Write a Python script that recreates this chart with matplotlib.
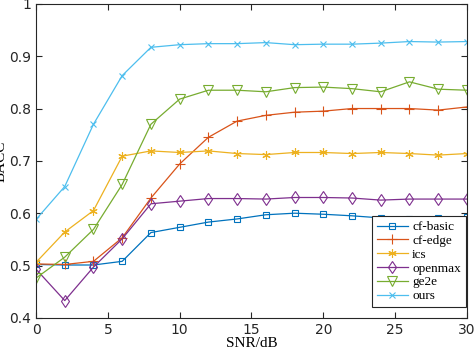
import numpy as np
import matplotlib
matplotlib.use("Agg")
import matplotlib.pyplot as plt

snr = [0, 2, 4, 6, 8, 10, 12, 14, 16, 18, 20, 22, 24, 26, 28, 30]

cf_basic = [0.502, 0.501, 0.501, 0.508, 0.563, 0.573, 0.583, 0.589, 0.597, 0.600,
            0.598, 0.595, 0.591, 0.589, 0.590, 0.592]
cf_edge = [0.503, 0.502, 0.508, 0.553, 0.629, 0.694, 0.745, 0.776, 0.787, 0.793,
           0.795, 0.800, 0.800, 0.800, 0.797, 0.803]
ics = [0.506, 0.564, 0.605, 0.709, 0.719, 0.716, 0.719, 0.714, 0.712, 0.716,
       0.716, 0.714, 0.716, 0.714, 0.711, 0.714]
openmax = [0.493, 0.433, 0.497, 0.551, 0.618, 0.623, 0.628, 0.628, 0.627, 0.630,
           0.630, 0.629, 0.625, 0.627, 0.627, 0.627]
ge2e = [0.476, 0.516, 0.569, 0.655, 0.770, 0.818, 0.835, 0.835, 0.832, 0.840,
        0.841, 0.838, 0.832, 0.851, 0.837, 0.835]
ours = [0.588, 0.651, 0.770, 0.863, 0.917, 0.922, 0.924, 0.924, 0.926, 0.922,
        0.923, 0.923, 0.925, 0.928, 0.927, 0.928]

names = ["cf-basic", "cf-edge", "ics", "openmax", "ge2e", "ours"]
series = [cf_basic, cf_edge, ics, openmax, ge2e, ours]
colors = ["#0072BD", "#D95319", "#EDB120", "#7E2F8E", "#77AC30", "#4DBEEE"]
markers = ["s", "+", (6, 2, 0), "d", "v", "x"]
msizes = [5, 6.5, 6, 6, 6.5, 5]

fig = plt.figure(figsize=(4.74, 3.52), dpi=100)
ax = fig.add_axes([0.076, 0.097, 0.909, 0.892])

for y, name, c, m, ms in zip(series, names, colors, markers, msizes):
    ax.plot(snr, y, color=c, marker=m, markersize=ms, markerfacecolor="none",
            markeredgecolor=c, linewidth=0.9, markeredgewidth=0.8, label=name)

ax.set_xlim(0, 30)
ax.set_ylim(0.4, 1.0)
ax.set_xticks([0, 5, 10, 15, 20, 25, 30])
ax.set_yticks([0.4, 0.5, 0.6, 0.7, 0.8, 0.9, 1.0])
ax.set_yticklabels(["0.4", "0.5", "0.6", "0.7", "0.8", "0.9", "1"])
ax.tick_params(direction="in", top=True, right=True, labelsize=10, length=4,
               color="#262626", labelcolor="#262626")
for s in ax.spines.values():
    s.set_color("#262626")
    s.set_linewidth(0.8)

ax.set_xlabel("SNR/dB", family="Liberation Serif", fontsize=11, labelpad=0)
ax.set_ylabel("BACC", family="Liberation Serif", fontsize=11, labelpad=1)

leg = ax.legend(loc="lower right", bbox_to_anchor=(0.997, 0.035),
                prop={"family": "Liberation Serif", "size": 9.5},
                fancybox=False, edgecolor="#262626", framealpha=1,
                handlelength=2.4, labelspacing=0.12, borderpad=0.35,
                handletextpad=0.3, borderaxespad=0)
leg.get_frame().set_linewidth(0.8)

fig.savefig("out.png", dpi=100)
